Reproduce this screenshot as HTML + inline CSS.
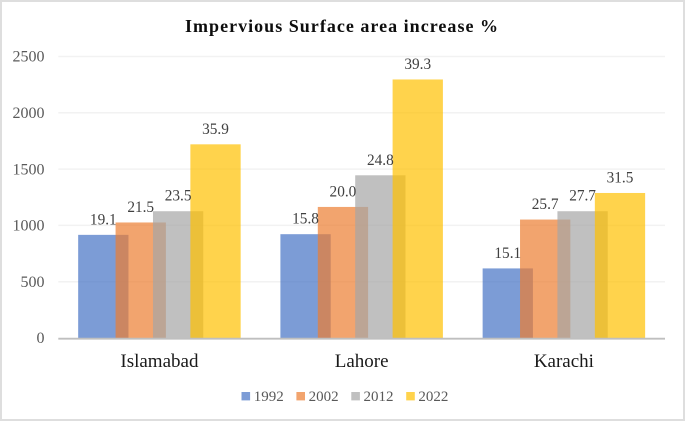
<!DOCTYPE html>
<html lang="en">
<head>
<meta charset="utf-8">
<title>Impervious Surface area increase %</title>
<style>
html,body{margin:0;padding:0;background:#fff;width:685px;height:421px;overflow:hidden}
svg{display:block;font-family:"Liberation Serif",serif}
</style>
</head>
<body>
<svg id="chart" width="685" height="421" viewBox="0 0 685 421" xmlns="http://www.w3.org/2000/svg">
<rect x="1" y="1" width="683" height="419" fill="#fff" stroke="#dedede" stroke-width="2"/>
<text x="341.5" y="32" text-anchor="middle" font-size="18" font-weight="bold" fill="#0d0d0d" textLength="313" lengthAdjust="spacing">Impervious Surface area increase %</text>
</svg>
<script>
var categories = ['Islamabad', 'Lahore', 'Karachi'];
var seriesNames = ['1992', '2002', '2012', '2022'];
var seriesColors = ['#4472C4', '#ED7D31', '#A5A5A5', '#FFC000'];
var values1992 = [916, 922, 618];
var values2002 = [1026, 1164, 1052];
var values2012 = [1126, 1445, 1126];
var values2022 = [1720, 2296, 1288];
var labels1992 = ['19.1', '15.8', '15.1'];
var labels2002 = ['21.5', '20.0', '25.7'];
var labels2012 = ['23.5', '24.8', '27.7'];
var labels2022 = ['35.9', '39.3', '31.5'];
var yTicks = [0, 500, 1000, 1500, 2000, 2500];

var seriesValues = [values1992, values2002, values2012, values2022];
var seriesLabels = [labels1992, labels2002, labels2012, labels2022];

var plotLeft = 58.3, plotRight = 665, plotBottom = 338, plotTop = 56.5, yMax = 2500;
var barWidth = 50.3, barStep = 37.4;
var svg = document.getElementById('chart');

function yScale(v) {
  return plotBottom - (v / yMax) * (plotBottom - plotTop);
}
function xCenter(i) {
  return plotLeft + (plotRight - plotLeft) * (i + 0.5) / categories.length;
}
function xBar(i, s) {
  return xCenter(i) - (barStep * (seriesNames.length - 1) + barWidth) / 2 + s * barStep;
}
function make(tag, attrs, text) {
  var el = document.createElementNS('http://www.w3.org/2000/svg', tag);
  for (var k in attrs) el.setAttribute(k, attrs[k]);
  if (text !== undefined) el.textContent = text;
  svg.appendChild(el);
  return el;
}

yTicks.forEach(function (t) {
  if (t !== 0) {
    var grid = make('line', {x1: plotLeft, x2: plotRight, y1: yScale(t), y2: yScale(t), stroke: '#f2f2f2', 'stroke-width': 1.5});
    
    
  }
  var tick = make('text', {x: 44.5, y: yScale(t) + 5.2, 'text-anchor': 'end', 'font-size': 16, fill: '#595959'}, String(t));
  
  
});

seriesNames.forEach(function (name, s) {
  categories.forEach(function (cat, i) {
    var v = seriesValues[s][i];
    var bar = make('rect', {x: xBar(i, s), y: yScale(v), width: barWidth, height: plotBottom - yScale(v), fill: seriesColors[s], 'fill-opacity': 0.7});
    
    
  });
});

var axis = make('line', {x1: plotLeft, x2: plotRight, y1: plotBottom + 0.7, y2: plotBottom + 0.7, stroke: '#bfbfbf', 'stroke-width': 1.8});



seriesNames.forEach(function (name, s) {
  categories.forEach(function (cat, i) {
    var v = seriesValues[s][i];
    var lab = make('text', {x: xBar(i, s) + barWidth / 2, y: yScale(v) - 10.5, 'text-anchor': 'middle', 'font-size': 15.3, fill: '#404040'}, seriesLabels[s][i]);
    
    
  });
});

categories.forEach(function (cat, i) {
  var c = make('text', {x: xCenter(i), y: 367, 'text-anchor': 'middle', 'font-size': 19, fill: '#1a1a1a'}, cat);
  
  
});

seriesNames.forEach(function (name, s) {
  var lx = 241.5 + s * 54.9;
  var sw = make('rect', {x: lx, y: 392, width: 8.6, height: 8.4, fill: seriesColors[s], 'fill-opacity': 0.7});
  
  
  var lt = make('text', {x: lx + 12.2, y: 401, 'font-size': 15, fill: '#595959'}, name);
  
  
});
</script>
</body>
</html>
